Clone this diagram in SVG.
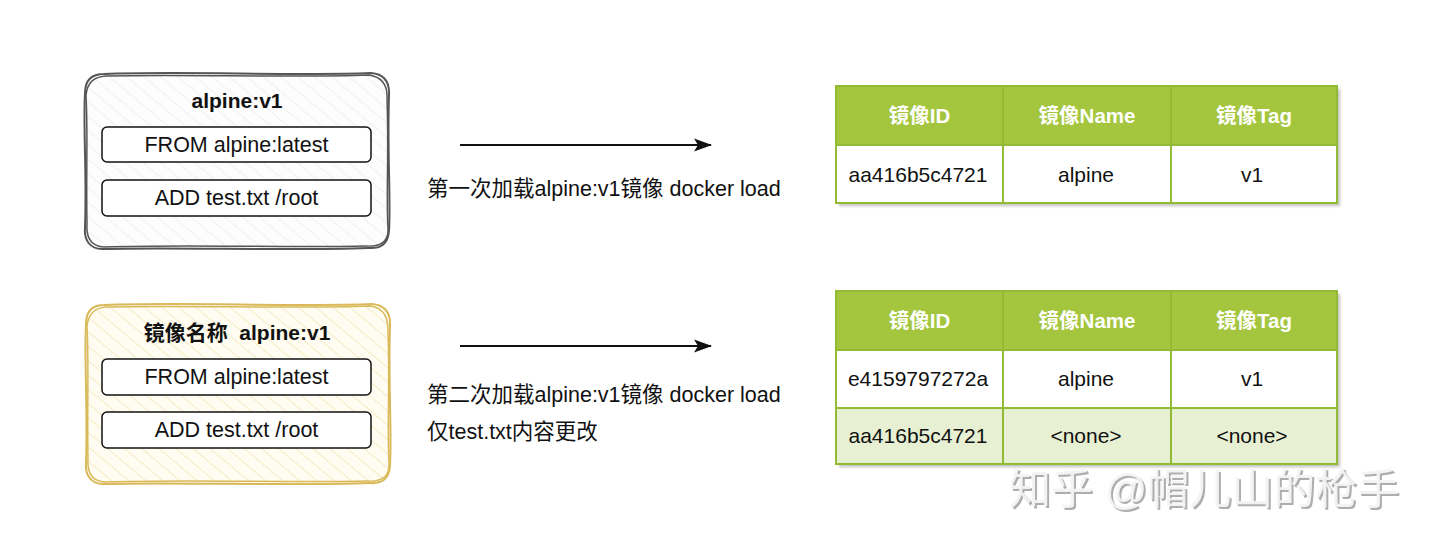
<svg xmlns="http://www.w3.org/2000/svg" width="1440" height="547" viewBox="0 0 1440 547">
<style>
text{font-family:"Liberation Sans","Noto Sans CJK SC",sans-serif;}
.t{font-size:21.5px;fill:#111;text-anchor:middle;}
.tb{font-size:21px;font-weight:bold;fill:#111;text-anchor:middle;}
.lbl{font-size:21.5px;fill:#111;}
.inner{fill:#fff;stroke:#111;stroke-width:1.5;}
.hdr{fill:#a3c63e;}
.hdrt{font-size:20.5px;font-weight:bold;fill:#fff;text-anchor:middle;}
.cell{font-size:21px;fill:#111;text-anchor:middle;}
.grid{stroke:#92bb33;stroke-width:2;fill:none;}
.conn{stroke:#111;stroke-width:2;fill:none;}
</style>
<defs>
<pattern id="hg" width="11" height="11" patternUnits="userSpaceOnUse" patternTransform="rotate(-50)">
<rect width="11" height="11" fill="#fdfdfd"/>
<line x1="0" y1="0" x2="0" y2="11" stroke="#ececec" stroke-width="1.5"/>
</pattern>
<pattern id="hy" width="11" height="11" patternUnits="userSpaceOnUse" patternTransform="rotate(-50)">
<rect width="11" height="11" fill="#fffcf1"/>
<line x1="0" y1="0" x2="0" y2="11" stroke="#f5ebc6" stroke-width="2"/>
</pattern>
<marker id="ah" markerWidth="18" markerHeight="14" refX="17" refY="7" orient="auto" markerUnits="userSpaceOnUse" viewBox="0 0 18 14">
<path d="M0,0.5 L18,7 L0,13.5 L4,7 Z" fill="#111"/>
</marker>
<filter id="sh" x="-5%" y="-5%" width="110%" height="115%">
<feDropShadow dx="3" dy="3" stdDeviation="1.5" flood-color="#000" flood-opacity="0.25"/>
</filter>
</defs>

<g id="image1">
<rect x="85" y="74" width="304" height="175" rx="18" fill="url(#hg)"/>
<path d="M104,74 C180,71 300,76 371,73 C384,74 390,82 389,96 C387,150 391,200 389,231 C388,244 381,249 368,248 C290,251 180,247 102,249 C90,249 84,240 85,228 C87,170 83,130 85,93 C85,80 92,74 104,74 Z" fill="none" stroke="#555" stroke-width="2"/>
<path d="M106,76 C190,74 290,78 369,75 C383,77 388,86 387,100 C389,150 386,200 388,228 C389,242 380,247 366,246 C280,248 190,244 104,247 C91,246 86,238 87,224 C86,170 88,130 86,96 C87,82 94,77 106,76 Z" fill="none" stroke="#555" stroke-width="1.5"/>
<text class="tb" x="237" y="108">alpine:v1</text>
<rect class="inner" x="102" y="127" width="269" height="35" rx="5"/>
<text class="t" x="236.5" y="152">FROM alpine:latest</text>
<rect class="inner" x="102" y="180" width="269" height="36" rx="5"/>
<text class="t" x="236.5" y="205">ADD test.txt /root</text>
</g>

<g id="image2">
<rect x="85" y="305" width="305" height="180" rx="18" fill="url(#hy)"/>
<path d="M104,305 C180,302 300,307 372,304 C385,305 391,313 390,327 C388,380 392,430 390,466 C389,479 382,484 369,483 C290,486 180,482 103,484 C91,484 85,475 86,463 C88,410 84,360 86,324 C86,311 93,305 104,305 Z" fill="none" stroke="#d9b95a" stroke-width="2"/>
<path d="M106,307 C190,305 290,309 370,306 C384,308 388,317 388,331 C390,380 387,430 389,463 C390,477 381,482 367,481 C280,483 190,479 105,482 C92,481 87,473 88,459 C87,410 89,360 87,327 C88,313 95,308 106,307 Z" fill="none" stroke="#d9b95a" stroke-width="1.5"/>
<text class="tb" x="237" y="340" xml:space="preserve">镜像名称  alpine:v1</text>
<rect class="inner" x="102" y="359" width="269" height="36" rx="5"/>
<text class="t" x="236.5" y="384">FROM alpine:latest</text>
<rect class="inner" x="102" y="412" width="269" height="36" rx="5"/>
<text class="t" x="236.5" y="437">ADD test.txt /root</text>
</g>

<g id="connectors">
<line class="conn" x1="460" y1="145" x2="711" y2="145" marker-end="url(#ah)"/>
<line class="conn" x1="460" y1="346" x2="711" y2="346" marker-end="url(#ah)"/>
</g>

<g id="label1">
<text class="lbl" x="427" y="196">第一次加载alpine:v1镜像 docker load</text>
</g>
<g id="label2">
<text class="lbl" x="427" y="402">第二次加载alpine:v1镜像 docker load</text>
<text class="lbl" x="427" y="439">仅test.txt内容更改</text>
</g>

<g id="table1">
<rect x="836" y="86" width="501" height="117" fill="#fff" filter="url(#sh)"/>
<rect class="hdr" x="836" y="86" width="501" height="59"/>
<rect class="grid" x="836" y="86" width="501" height="117"/>
<line class="grid" x1="836" y1="145" x2="1337" y2="145"/>
<line class="grid" x1="1003" y1="86" x2="1003" y2="203"/>
<line class="grid" x1="1171" y1="86" x2="1171" y2="203"/>
<text class="hdrt" x="919.5" y="123">镜像ID</text>
<text class="hdrt" x="1087" y="123">镜像Name</text>
<text class="hdrt" x="1254" y="123">镜像Tag</text>
<text class="cell" x="918" y="182">aa416b5c4721</text>
<text class="cell" x="1086" y="182">alpine</text>
<text class="cell" x="1252" y="182">v1</text>
</g>

<g id="table2">
<rect x="836" y="291" width="501" height="173" fill="#fff" filter="url(#sh)"/>
<rect class="hdr" x="836" y="291" width="501" height="59"/>
<rect x="836" y="408" width="501" height="56" fill="#e7f0d3"/>
<rect class="grid" x="836" y="291" width="501" height="173"/>
<line class="grid" x1="836" y1="350" x2="1337" y2="350"/>
<line class="grid" x1="836" y1="408" x2="1337" y2="408"/>
<line class="grid" x1="1003" y1="291" x2="1003" y2="464"/>
<line class="grid" x1="1171" y1="291" x2="1171" y2="464"/>
<text class="hdrt" x="919.5" y="328">镜像ID</text>
<text class="hdrt" x="1087" y="328">镜像Name</text>
<text class="hdrt" x="1254" y="328">镜像Tag</text>
<text class="cell" x="918" y="386">e4159797272a</text>
<text class="cell" x="1086" y="386">alpine</text>
<text class="cell" x="1252" y="386">v1</text>
<text class="cell" x="918" y="443">aa416b5c4721</text>
<text class="cell" x="1086" y="443">&lt;none&gt;</text>
<text class="cell" x="1252" y="443">&lt;none&gt;</text>
</g>

<g id="watermark">
<text x="1009" y="504" font-size="42" fill="#9a9a9a" opacity="0.8" transform="translate(2,2)">知乎 @帽儿山的枪手</text>
<text x="1009" y="504" font-size="42" fill="#f4f4f4" opacity="0.95">知乎 @帽儿山的枪手</text>
</g>
</svg>
